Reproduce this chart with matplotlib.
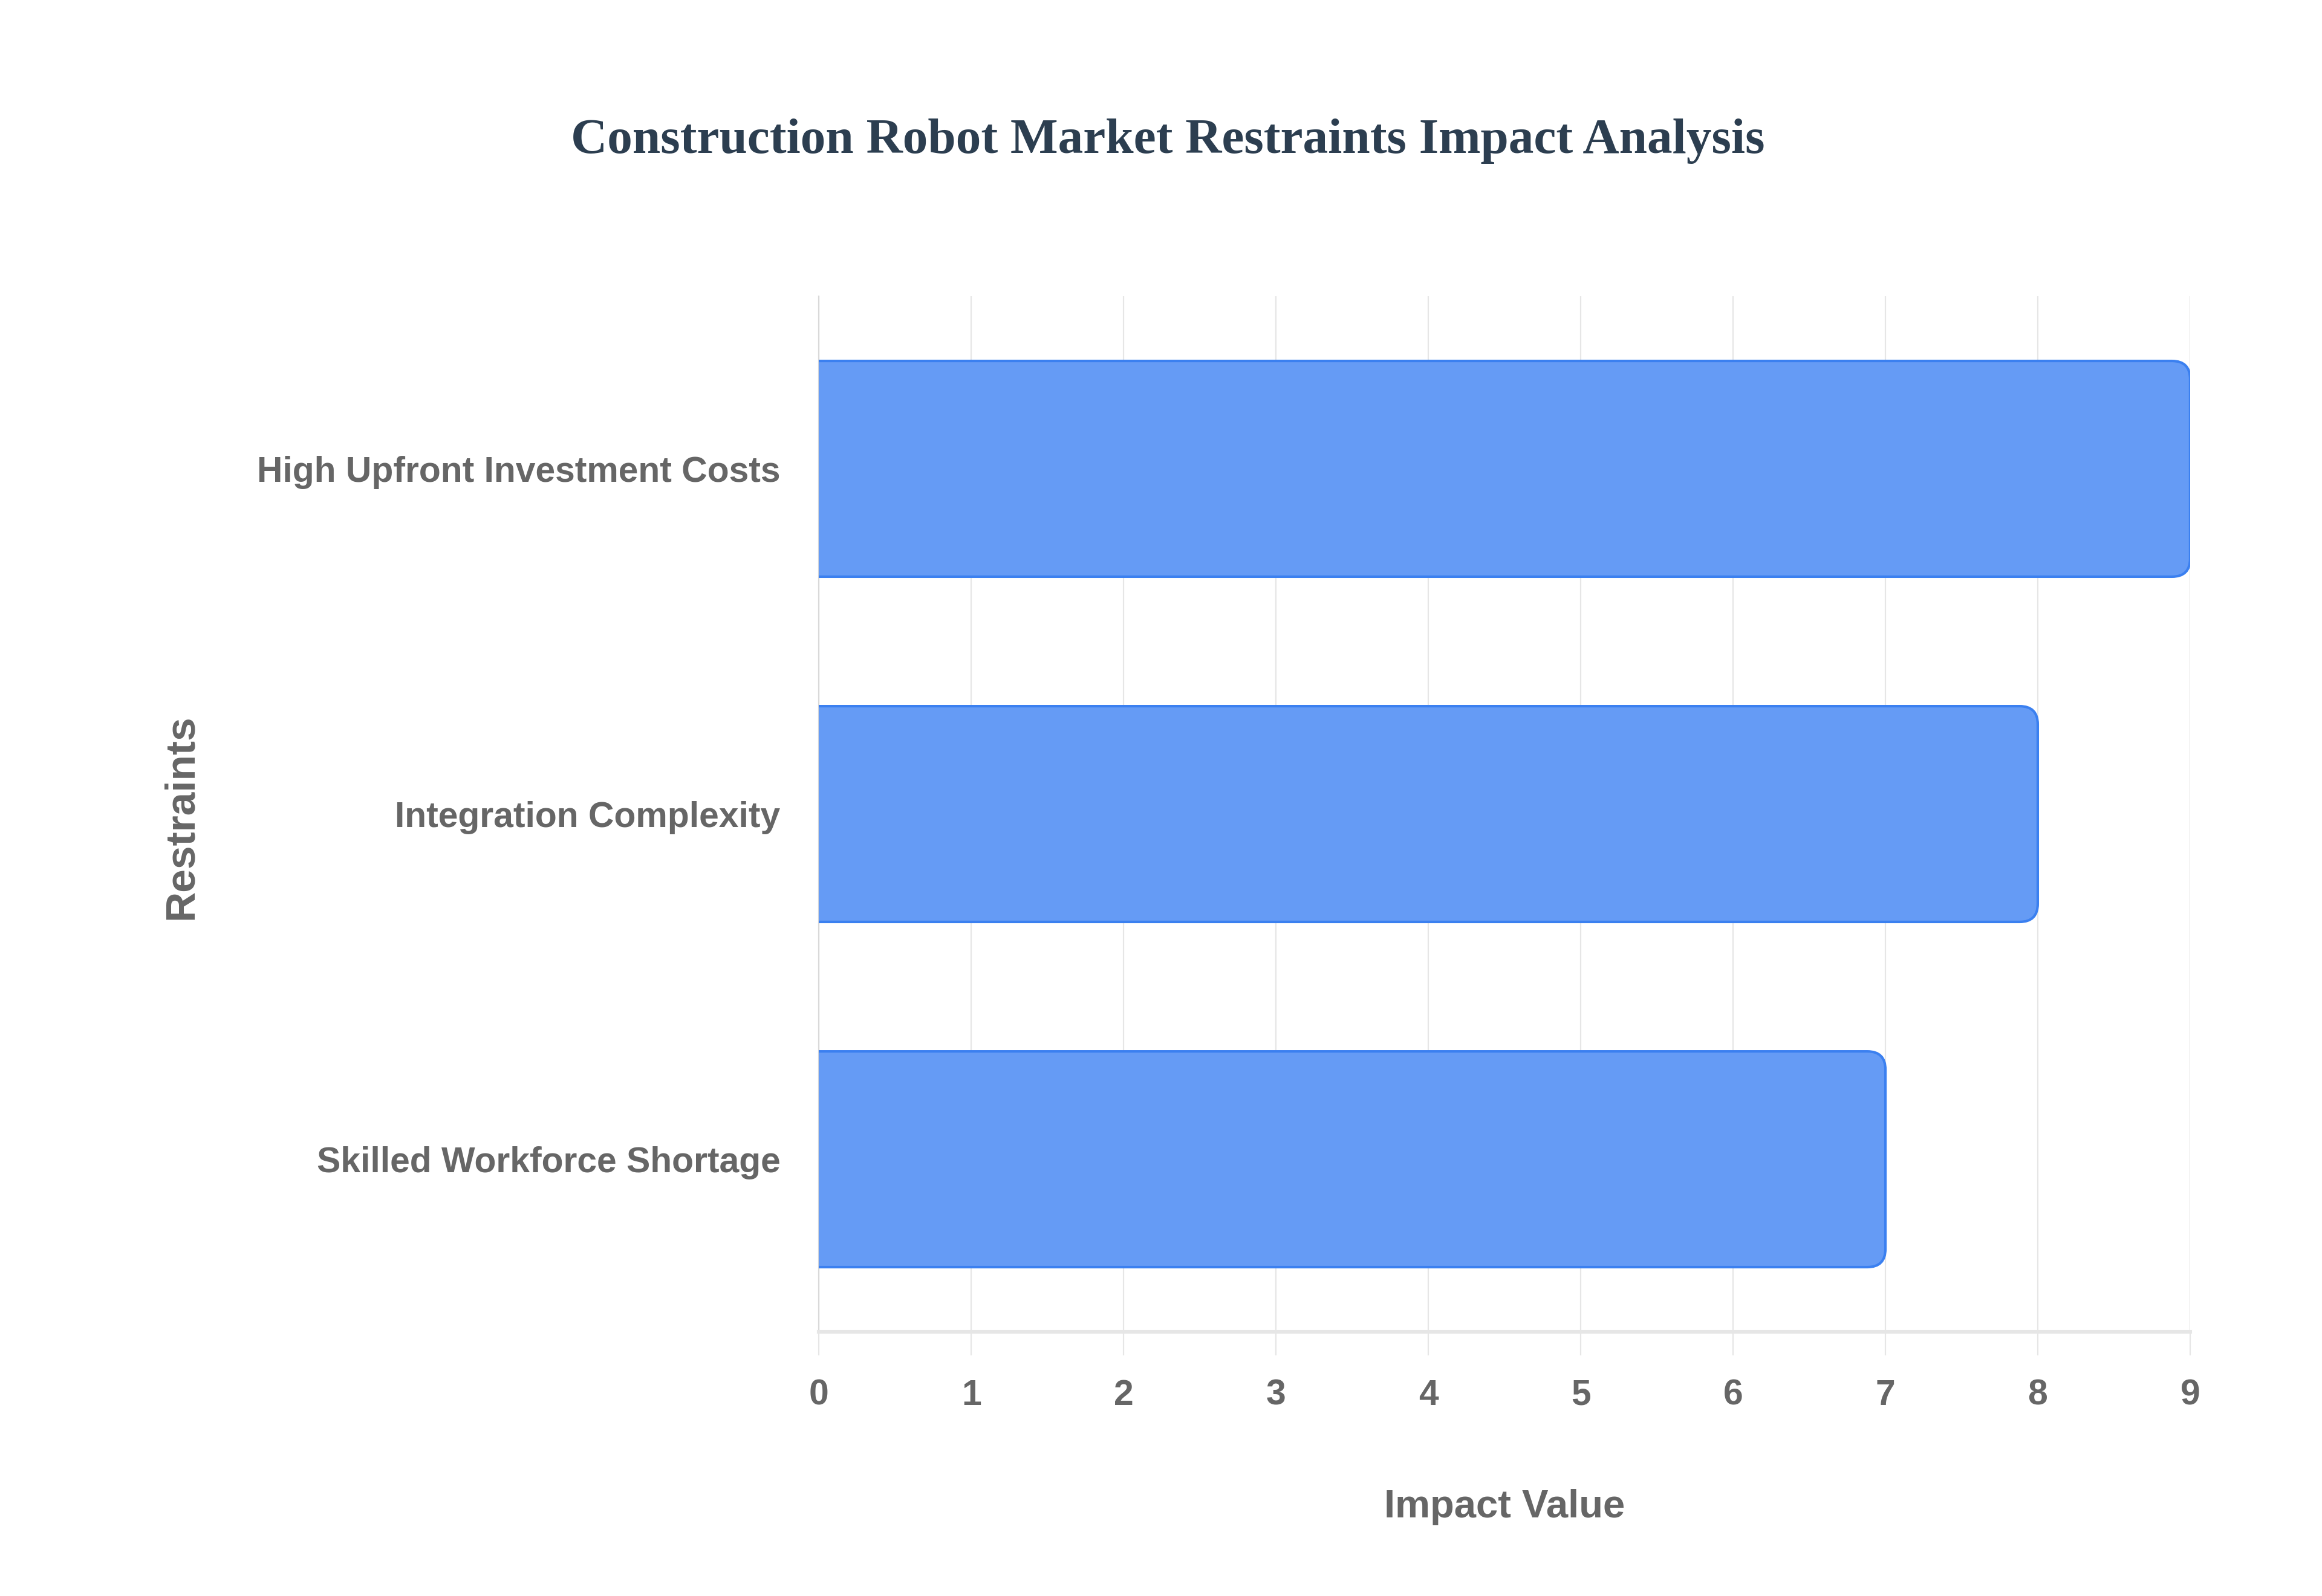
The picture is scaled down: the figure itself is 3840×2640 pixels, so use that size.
import matplotlib.pyplot as plt
from matplotlib.patches import FancyBboxPatch

# data, top to bottom as in the chart
restraints = ['High Upfront Investment Costs', 'Integration Complexity', 'Skilled Workforce Shortage']
impact = [9, 8, 7]
x_ticks = [0, 1, 2, 3, 4, 5, 6, 7, 8, 9]

fill_col = '#659bf5'
edge_col = '#3b80f0'
grey = '#666666'
grid_col = '#e6e6e6'

fig = plt.figure(figsize=(19.2, 13.2), dpi=200)
ax = fig.add_axes([0.3527, 0.1655, 0.5905, 0.6489])

ax.set_xlim(0, 9)
ax.set_ylim(len(restraints) - 0.5, -0.5)

# x units per pixel vs y units per pixel, so corners come out round
fig.canvas.draw()
bb = ax.get_window_extent()
xu = 9 / bb.width
yu = len(restraints) / bb.height
aspect = yu / xu
r = 30 * xu
bar_h = 0.625

for i, (name, v) in enumerate(zip(restraints, impact)):
    # start left of zero so only the right corners show rounded (clipped at x=0)
    p = FancyBboxPatch((-3 * r, i - bar_h / 2), v + 3 * r, bar_h,
                       boxstyle='round,pad=0,rounding_size=%f' % r,
                       mutation_aspect=aspect,
                       facecolor=fill_col, edgecolor=edge_col, linewidth=1.5,
                       zorder=3, clip_on=True)
    ax.add_patch(p)

ax.set_yticks(range(len(restraints)))
ax.set_yticklabels(restraints)
ax.set_xticks(x_ticks)

for lab in ax.get_yticklabels() + ax.get_xticklabels():
    lab.set_fontfamily('Liberation Sans')
    lab.set_fontweight('bold')
    lab.set_color(grey)
    lab.set_fontsize(21.2)

ax.tick_params(axis='y', length=0, pad=23)
ax.tick_params(axis='x', length=14, width=0.8, color=grid_col, pad=14)

ax.grid(axis='x', color=grid_col, linewidth=0.8, zorder=0)
ax.set_axisbelow(True)

for s in ['top', 'right']:
    ax.spines[s].set_visible(False)
ax.spines['left'].set_color('#d9d9d9')
ax.spines['left'].set_linewidth(0.8)
ax.spines['bottom'].set_color('#e6e6e6')
ax.spines['bottom'].set_linewidth(2.2)

ax.set_xlabel('Impact Value', fontfamily='Liberation Sans', fontweight='bold',
              fontsize=23.5, color=grey, va='center')
ax.xaxis.set_label_coords(0.5, -0.169)
ax.set_ylabel('Restraints', fontfamily='Liberation Sans', fontweight='bold',
              fontsize=25, color=grey, va='center')
ax.yaxis.set_label_coords(-0.465, 0.497)

fig.text(0.503, 0.9115, 'Construction Robot Market Restraints Impact Analysis',
         fontfamily='Liberation Serif', fontweight='bold', fontsize=30,
         color='#2c3e50', ha='center', va='center')

fig.savefig('out.png', dpi=200, facecolor='white')
